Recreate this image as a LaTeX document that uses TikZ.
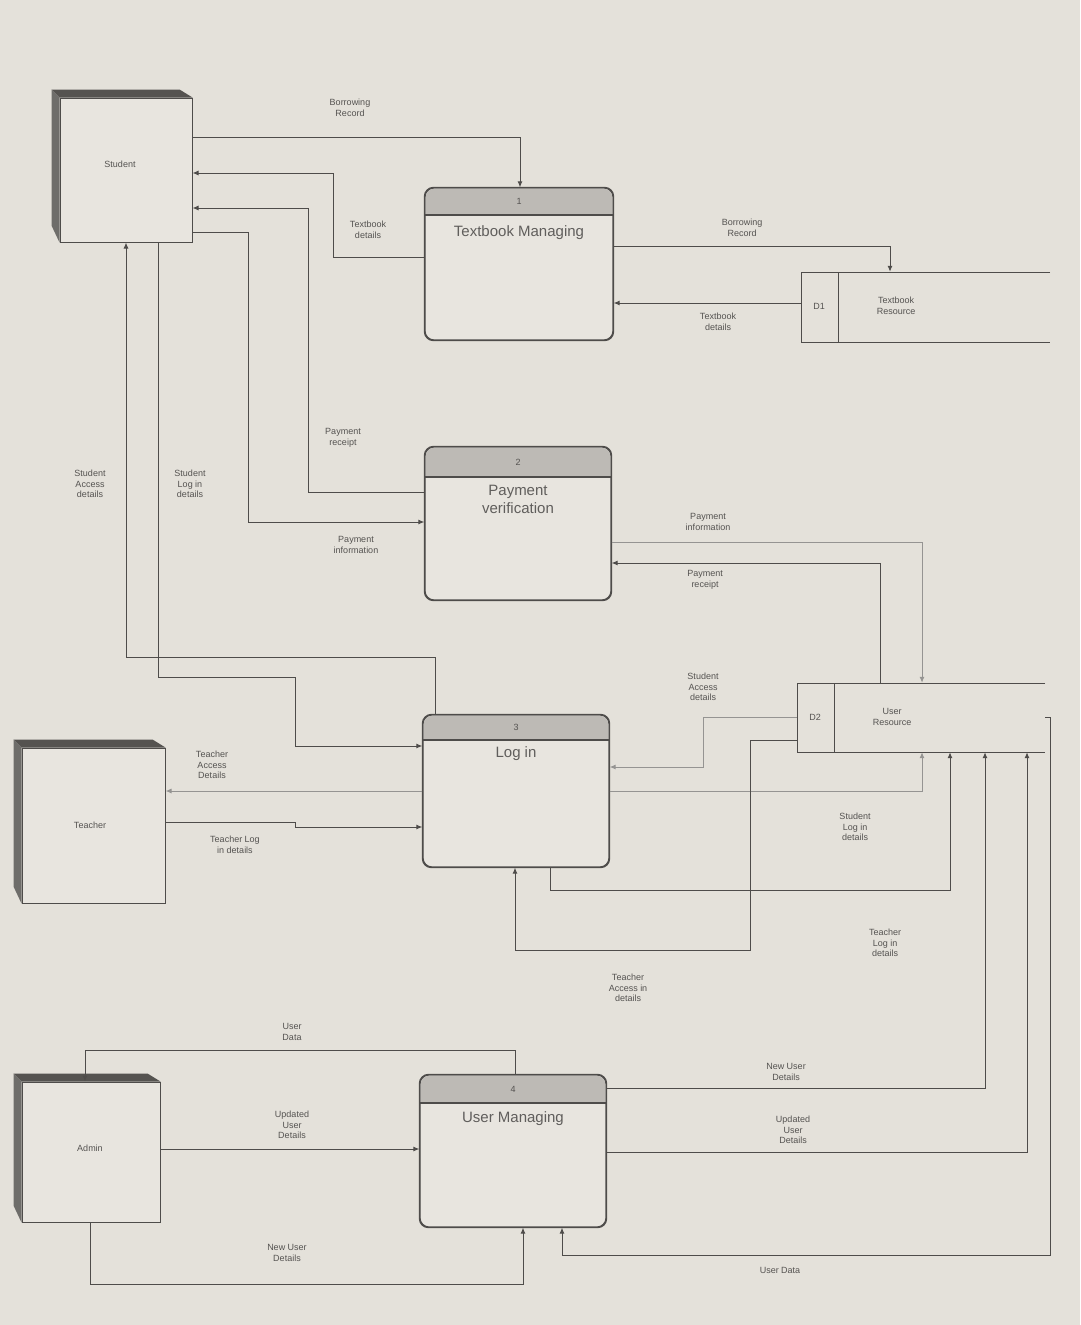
\documentclass[tikz,border=0pt]{standalone}
\usepackage{fontspec}
\setmainfont{Liberation Sans}
\usetikzlibrary{arrows.meta}
\definecolor{bg}{HTML}{E4E1DA}
\definecolor{ln}{HTML}{4E4C4A}
\definecolor{tx}{HTML}{555351}
\definecolor{hd}{HTML}{BDBAB5}
\definecolor{dk}{HTML}{555350}
\definecolor{fc}{HTML}{E8E5DF}
\tikzset{
  flow/.style={draw=ln,line width=1pt,-{Latex[length=6pt,width=5pt]}},
  lflow/.style={flow,draw=ln!60},
  plain/.style={draw=ln,line width=1pt},
  lbl/.style={font=\fontsize{9}{10.5}\selectfont,text=tx,align=center,inner sep=0pt},
  box/.style={draw=ln,line width=1pt,fill=fc,inner sep=0pt},
  proc/.style={draw=ln,line width=1.2pt,fill=fc,rounded corners=9pt,inner sep=0pt},
}
\newcommand{\mkentity}[7]{% name x1 y1 x2 y2 label labelpos
  \node[box,minimum width={#4-#2},minimum height={#5-#3}] (#1) at ({(#2+#4)/2},{(#3+#5)/2}) {};
  \fill[dk] (#1.north west) -- ++(-8,-8) -- ++({#4-#2-4},0) -- (#1.north east) -- cycle;
  \fill[dk!85] (#1.north west) -- ++(-8,-8) -- ++(0,{#5-#3-8}) -- (#1.south west) -- cycle;
  \node[lbl] at (#7) {#6};
}
\newcommand{\mkproc}[9]{% name x1 y1 x2 y2 hy num label labely
  \node[proc,minimum width={#4-#2},minimum height={#5-#3}] (#1) at ({(#2+#4)/2},{(#3+#5)/2}) {};
  \fill[hd,rounded corners=9pt] (#2+0.6,#6) -- (#2+0.6,#3+0.6) -- (#4-0.6,#3+0.6) [sharp corners] -- (#4-0.6,#6) -- cycle;
  \draw[ln,line width=1.2pt,rounded corners=9pt] (#1.south west) rectangle (#1.north east);
  \draw[ln,line width=1.5pt] (#2,#6) -- (#4,#6);
  \node[font=\fontsize{9}{10}\selectfont,text=tx] at ({(#2+#4)/2},{(#3+#6)/2}) {#7};
  \node[font=\fontsize{15}{18}\selectfont,text=ln!90,align=center,anchor=north] at ({(#2+#4)/2},#9) {#8};
}
\newcommand{\mkstore}[7]{% name x1 y1 x2 y2 id label
  \node[inner sep=0pt,minimum width={#4-#2},minimum height={#5-#3}] (#1) at ({(#2+#4)/2},{(#3+#5)/2}) {};
  \draw[plain] (#4,#3) -- (#2,#3) -- (#2,#5) -- (#4,#5);
  \draw[plain] (#2+37,#3) -- (#2+37,#5);
  \node[lbl] at (#2+18,#3+34) {#6};
  \node[lbl] at (#2+95,#3+34) {#7};
}
\begin{document}
\begin{tikzpicture}[x=1pt,y=-1pt]
\fill[bg] (0,0) rectangle (1080,1325);
\useasboundingbox (0,0) rectangle (1080,1325);

\mkentity{S}{60}{98}{192}{242}{Student}{120,164}
\mkentity{T}{22}{748}{165}{903}{Teacher}{90,825}
\mkentity{A}{22}{1082}{160}{1222}{Admin}{90,1148}

\mkproc{P1}{425}{188}{613}{340}{215}{1}{Textbook Managing}{222}
\mkproc{P2}{425}{447}{611}{600}{477}{2}{Payment\\verification}{482}
\mkproc{P3}{423}{715}{609}{867}{740}{3}{Log in}{743}
\mkproc{P4}{420}{1075}{606}{1227}{1103}{4}{User Managing}{1108}

\mkstore{D1}{801}{272}{1050}{342}{D1}{Textbook\\Resource}
\mkstore{D2}{797}{683}{1045}{752}{D2}{User\\Resource}

% Student flows
\draw[flow] (S.east |- 0,137) -- (520,137) -- (P1.north -| 520,0);
\node[lbl] at (350,108) {Borrowing\\Record};
\draw[flow] (P1.west |- 0,257) -- (333,257) -- (333,173) -- (S.east |- 0,173);
\node[lbl] at (368,230) {Textbook\\details};
\draw[flow] (P2.west |- 0,492) -- (308,492) -- (308,208) -- (S.east |- 0,208);
\node[lbl] at (343,438) {Payment\\receipt};
\draw[flow] (S.east |- 0,232) -- (248,232) -- (248,522) -- (P2.west |- 0,522);
\node[lbl] at (356,545) {Payment\\information};
\draw[flow] (P3.north -| 435,0) -- (435,657) -- (126,657) -- (S.south -| 126,0);
\node[lbl] at (90,484) {Student\\Access\\details};
\draw[flow] (S.south -| 158,0) -- (158,677) -- (295,677) -- (295,746) -- (P3.west |- 0,746);
\node[lbl] at (190,484) {Student\\Log in\\details};

% D1 flows
\draw[flow] (P1.east |- 0,246) -- (890,246) -- (D1.north -| 890,0);
\node[lbl] at (742,228) {Borrowing\\Record};
\draw[flow] (D1.west |- 0,303) -- (P1.east |- 0,303);
\node[lbl] at (718,322) {Textbook\\details};

% Payment with D2
\draw[lflow] (P2.east |- 0,542) -- (922,542) -- (D2.north -| 922,0);
\node[lbl] at (708,522) {Payment\\information};
\draw[flow] (D2.north -| 880,0) -- (880,563) -- (P2.east |- 0,563);
\node[lbl] at (705,580) {Payment\\receipt};

% Log in flows
\draw[lflow] (D2.west |- 0,717) -- (703,717) -- (703,767) -- (P3.east |- 0,767);
\node[lbl] at (703,687) {Student\\Access\\details};
\draw[lflow] (P3.west |- 0,791) -- (T.east |- 0,791);
\node[lbl] at (212,765) {Teacher\\Access\\Details};
\draw[lflow] (P3.east |- 0,791) -- (922,791) -- (D2.south -| 922,0);
\node[lbl] at (855,827) {Student\\Log in\\details};
\draw[flow] (T.east |- 0,822) -- (295,822) -- (295,827) -- (P3.west |- 0,827);
\node[lbl] at (235,845) {Teacher Log\\in details};
\draw[flow] (P3.south -| 550,0) -- (550,890) -- (950,890) -- (D2.south -| 950,0);
\node[lbl] at (885,943) {Teacher\\Log in\\details};
\draw[flow] (D2.west |- 0,740) -- (750,740) -- (750,950) -- (515,950) -- (P3.south -| 515,0);
\node[lbl] at (628,988) {Teacher\\Access in\\details};

% User managing
\draw[flow] (P4.north -| 515,0) -- (515,1050) -- (85,1050) -- (A.north -| 85,0);
\node[lbl] at (292,1032) {User\\Data};
\draw[flow] (A.east |- 0,1149) -- (P4.west |- 0,1149);
\node[lbl] at (292,1125) {Updated\\User\\Details};
\draw[flow] (A.south -| 90,0) -- (90,1284) -- (523,1284) -- (P4.south -| 523,0);
\node[lbl] at (287,1253) {New User\\Details};
\draw[flow] (P4.east |- 0,1088) -- (985,1088) -- (D2.south -| 985,0);
\node[lbl] at (786,1072) {New User\\Details};
\draw[flow] (P4.east |- 0,1152) -- (1027,1152) -- (D2.south -| 1027,0);
\node[lbl] at (793,1130) {Updated\\User\\Details};
\draw[flow] (D2.east |- 0,717) -- (1050,717) -- (1050,1255) -- (562,1255) -- (P4.south -| 562,0);
\node[lbl] at (780,1270) {User Data};
\end{tikzpicture}
\end{document}
